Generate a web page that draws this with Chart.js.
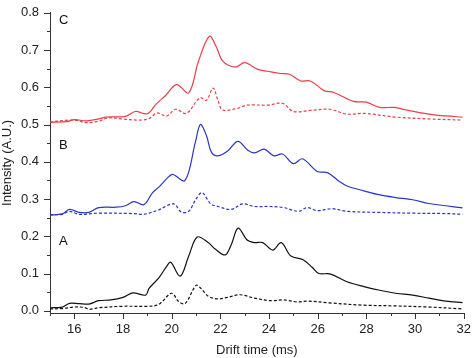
<!DOCTYPE html>
<html>
<head>
<meta charset="utf-8">
<script src="https://cdn.jsdelivr.net/npm/chart.js@4"></script>
<style>
  html, body { margin: 0; padding: 0; background: #fff; }
  #wrap { width: 474px; height: 358px; }
</style>
</head>
<body>
<div id="wrap"><canvas id="chart" width="474" height="358"></canvas></div>
<script>
// drift time (ms) and intensity
var aSolidX = [15, 15.5, 15.8, 16.2, 16.6, 17, 17.5, 18, 18.4, 18.93, 19.07, 19.47, 19.8, 19.96, 20.35, 20.7, 21.05, 21.5, 21.8, 22.2, 22.45, 22.73, 23.1, 23.4, 23.74, 24.15, 24.5, 24.9, 25.4, 25.77, 26.05, 26.5, 27.2, 27.9, 28.55, 29.2, 29.9, 30.57, 31.26, 31.95];
var aSolidY = [0.008, 0.01, 0.02, 0.019, 0.018, 0.027, 0.029, 0.036, 0.048, 0.042, 0.06, 0.088, 0.12, 0.13, 0.093, 0.147, 0.198, 0.183, 0.165, 0.15, 0.178, 0.222, 0.19, 0.183, 0.183, 0.163, 0.183, 0.147, 0.137, 0.117, 0.1, 0.099, 0.078, 0.065, 0.055, 0.047, 0.042, 0.034, 0.026, 0.022];

var aDashX = [15, 15.5, 16, 16.4, 16.6, 17, 18, 19, 19.4, 19.6, 20, 20.3, 20.56, 21.0, 21.2, 21.5, 21.9, 22.3, 22.8, 23.4, 24.05, 24.6, 25.15, 25.57, 26.5, 27.9, 29.2, 30.57, 31.95];
var aDashY = [0.005, 0.006, 0.01, 0.009, 0.004, 0.008, 0.012, 0.012, 0.015, 0.024, 0.047, 0.024, 0.02, 0.068, 0.06, 0.039, 0.032, 0.036, 0.043, 0.034, 0.027, 0.029, 0.024, 0.026, 0.021, 0.015, 0.013, 0.01, 0.005];

var bSolidX = [15, 15.5, 15.8, 16.2, 16.6, 17, 17.7, 18.1, 18.45, 18.86, 19.2, 19.47, 19.88, 20.04, 20.55, 20.97, 21.18, 21.43, 21.63, 21.9, 22.3, 22.72, 23.13, 23.4, 23.8, 24.2, 24.55, 25.0, 25.37, 25.98, 26.4, 26.87, 27.2, 27.9, 28.55, 29.2, 29.9, 30.57, 31.26, 31.95];
var bSolidY = [0.257, 0.26, 0.272, 0.264, 0.264, 0.277, 0.278, 0.282, 0.293, 0.285, 0.316, 0.332, 0.36, 0.366, 0.35, 0.452, 0.5, 0.47, 0.426, 0.416, 0.429, 0.455, 0.431, 0.424, 0.434, 0.416, 0.421, 0.395, 0.408, 0.374, 0.371, 0.348, 0.335, 0.322, 0.311, 0.304, 0.298, 0.288, 0.282, 0.276];

var bDashX = [15, 15.5, 15.8, 16.2, 17, 18.4, 18.86, 19.2, 19.47, 20.08, 20.4, 20.7, 21.0, 21.25, 21.6, 21.9, 22.45, 22.9, 23.4, 24.05, 24.6, 25.2, 25.57, 25.98, 26.6, 27.2, 28.55, 29.9, 31.26, 31.95];
var bDashY = [0.258, 0.259, 0.267, 0.259, 0.262, 0.261, 0.259, 0.265, 0.271, 0.287, 0.265, 0.267, 0.3, 0.317, 0.287, 0.28, 0.272, 0.287, 0.28, 0.28, 0.277, 0.267, 0.277, 0.269, 0.274, 0.267, 0.264, 0.262, 0.261, 0.259];

var cSolidX = [15, 15.7, 16.0, 16.5, 17.0, 17.3, 18.1, 18.5, 19.0, 19.35, 19.75, 20.2, 20.7, 21.1, 21.55, 21.83, 22.1, 22.6, 23.0, 23.54, 23.94, 24.47, 24.84, 25.3, 25.7, 26.26, 26.67, 27.48, 28.0, 28.54, 29.15, 29.63, 30.57, 31.26, 31.95];
var cSolidY = [0.506, 0.508, 0.513, 0.51, 0.515, 0.52, 0.522, 0.535, 0.529, 0.554, 0.578, 0.607, 0.585, 0.67, 0.737, 0.709, 0.67, 0.654, 0.666, 0.648, 0.643, 0.637, 0.635, 0.617, 0.617, 0.591, 0.586, 0.562, 0.56, 0.546, 0.546, 0.539, 0.528, 0.523, 0.52];

var cDashX = [15, 16.0, 16.5, 17.0, 17.4, 18.1, 18.7, 19.07, 19.4, 19.8, 20.16, 20.6, 21.16, 21.43, 21.7, 21.9, 22.1, 22.72, 23.1, 23.94, 24.55, 25.0, 25.7, 26.5, 27.2, 27.9, 29.2, 30.57, 31.95];
var cDashY = [0.507, 0.512, 0.505, 0.509, 0.518, 0.514, 0.512, 0.516, 0.531, 0.523, 0.541, 0.53, 0.572, 0.565, 0.598, 0.565, 0.539, 0.544, 0.552, 0.552, 0.557, 0.535, 0.538, 0.541, 0.528, 0.53, 0.52, 0.515, 0.512];

var panelLabels = ['A', 'B', 'C'];
var panelLabelY = [0.186, 0.444, 0.779];
var xTicks = [16, 18, 20, 22, 24, 26, 28, 30, 32];
var yTicks = [0, 0.1, 0.2, 0.3, 0.4, 0.5, 0.6, 0.7, 0.8];

var BLACK = '#111111', BLUE = '#2a36c4', RED = '#e8404a';
var FONT = '"Liberation Sans", Arial, sans-serif';

function pts(xs, ys) {
    return xs.map(function(x, i) { return {x: x, y: ys[i]}; });
}

function series(xs, ys, color, dashed) {
    return {
        data: pts(xs, ys),
        borderColor: color,
        borderWidth: 1.2,
        borderDash: dashed ? [3, 2] : [],
        pointRadius: 0,
        showLine: true,
        fill: false,
        tension: 0.35
    };
}

// tick marks (major + minor) and the A/B/C panel letters
var decor = {
    id: 'decor',
    afterDraw: function(chart) {
        var ctx = chart.ctx, xs = chart.scales.x, ys = chart.scales.y;
        var left = chart.chartArea.left, bottom = chart.chartArea.bottom;
        ctx.save();
        ctx.strokeStyle = '#333';
        ctx.lineWidth = 1;
        ctx.beginPath();
        for (var v = 15; v <= 32; v++) {
            var px = Math.round(xs.getPixelForValue(v)) + 0.5;
            var len = v % 2 === 0 ? 6 : 3;
            ctx.moveTo(px, bottom);
            ctx.lineTo(px, bottom + len);
        }
        for (var k = 0; k <= 16; k++) {
            var py = Math.round(ys.getPixelForValue(k * 0.05)) + 0.5;
            var l2 = k % 2 === 0 ? 6 : 3;
            ctx.moveTo(left, py);
            ctx.lineTo(left - l2, py);
        }
        ctx.stroke();
        ctx.fillStyle = '#111';
        ctx.font = '13px ' + FONT;
        ctx.textBaseline = 'middle';
        panelLabels.forEach(function(t, i) {
            ctx.fillText(t, xs.getPixelForValue(15.37), ys.getPixelForValue(panelLabelY[i]));
        });
        ctx.restore();
    }
};

new Chart(document.getElementById('chart'), {
    type: 'scatter',
    data: {
        datasets: [
            series(aSolidX, aSolidY, BLACK, false),
            series(aDashX, aDashY, BLACK, true),
            series(bSolidX, bSolidY, BLUE, false),
            series(bDashX, bDashY, BLUE, true),
            series(cSolidX, cSolidY, RED, false),
            series(cDashX, cDashY, RED, true)
        ]
    },
    options: {
        responsive: false,
        animation: false,
        layout: { padding: { left: 0, right: 7, top: 7, bottom: 0 } },
        plugins: { legend: { display: false }, tooltip: { enabled: false } },
        scales: {
            x: {
                type: 'linear',
                min: 15, max: 32,
                afterBuildTicks: function(s) { s.ticks = xTicks.map(function(v) { return {value: v}; }); },
                afterFit: function(s) { s.height = 45; },
                grid: { display: true, drawOnChartArea: false, tickLength: 6, color: 'transparent' },
                border: { display: true, color: '#333', width: 1 },
                ticks: { color: '#222', font: { family: FONT, size: 13 }, padding: 3, maxRotation: 0 },
                title: { display: true, text: 'Drift time (ms)', color: '#222', font: { family: FONT, size: 13 }, padding: { top: 4, bottom: 0 } }
            },
            y: {
                type: 'linear',
                min: -0.006, max: 0.8,
                afterBuildTicks: function(s) { s.ticks = yTicks.map(function(v) { return {value: v}; }); },
                afterFit: function(s) { s.width = 50; },
                grid: { display: true, drawOnChartArea: false, tickLength: 6, color: 'transparent' },
                border: { display: true, color: '#333', width: 1 },
                ticks: { color: '#222', font: { family: FONT, size: 13 }, padding: 5,
                    callback: function(v) { return Number(v).toFixed(1); } },
                title: { display: true, text: 'Intensity (A.U.)', color: '#222', font: { family: FONT, size: 13 }, padding: { top: 0, bottom: 0 } }
            }
        }
    },
    plugins: [decor]
});
</script>
</body>
</html>
